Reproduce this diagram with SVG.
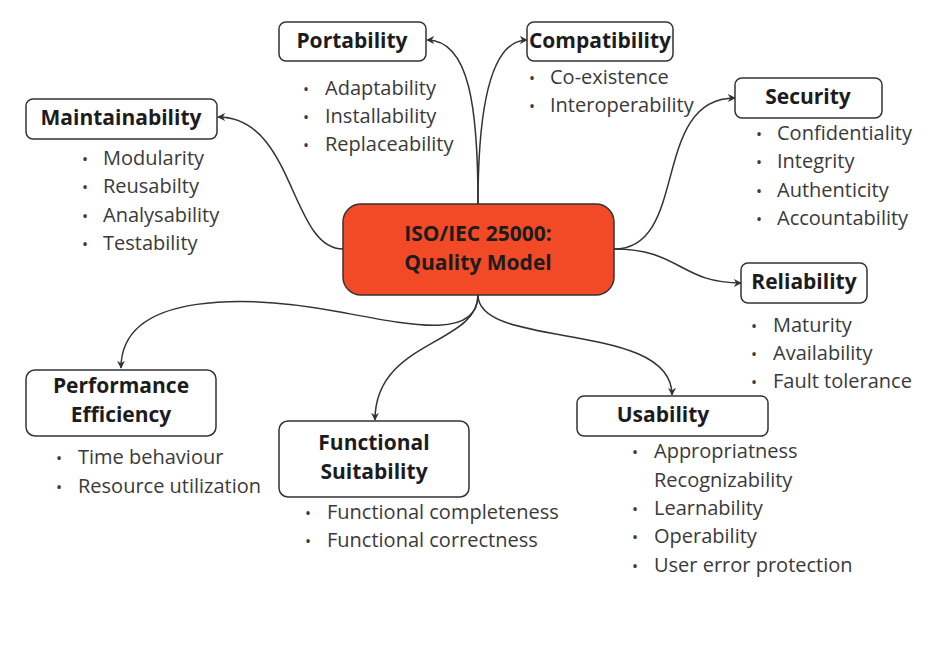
<svg xmlns="http://www.w3.org/2000/svg" width="945" height="658" viewBox="0 0 945 658">
<style>
.box{fill:#fff;stroke:#333;stroke-width:1.5}
.hd{font-family:"Open Sans","Liberation Sans",sans-serif;font-weight:bold;font-size:21px;fill:#1c1c1c;text-anchor:middle}
.it{font-family:"Open Sans","Liberation Sans",sans-serif;font-size:20px;fill:#3a3a3a}
.bu{font-family:"Open Sans","Liberation Sans",sans-serif;font-size:16px;fill:#3a3a3a}
.cn{fill:none;stroke:#333;stroke-width:1.5;marker-end:url(#ah)}
</style>
<defs>
<marker id="ah" viewBox="0 0 10 10" refX="9" refY="5" markerWidth="8" markerHeight="8" markerUnits="userSpaceOnUse" orient="auto">
<path d="M0,0 L10,5 L0,10 L3,5 z" fill="#333"/>
</marker>
</defs>
<rect width="945" height="658" fill="#fff"/>
<g id="connectors">
<path class="cn" d="M343,249 C290,249 295,117 218,117"/>
<path class="cn" d="M478,204 C478,110 470,40 427,40"/>
<path class="cn" d="M478,204 C478,110 490,40 527,40"/>
<path class="cn" d="M614,249 C690,249 650,98 735,98"/>
<path class="cn" d="M614,249 C680,249 680,283 741,283"/>
<path class="cn" d="M478,295 C478,340 410,325 340,312 C250,295 121,290 121,368"/>
<path class="cn" d="M478,295 C478,345 375,340 375,420"/>
<path class="cn" d="M478,295 C478,350 672,320 672,395"/>
</g>
<g id="center">
<rect x="343" y="204" width="271" height="91" rx="18" fill="#F24A26" stroke="#333" stroke-width="1.5"/>
<text class="hd" x="478" y="241">ISO/IEC 25000:</text>
<text class="hd" x="478" y="270">Quality Model</text>
</g>
<g id="portability">
<rect class="box" x="279" y="22" width="147" height="39" rx="7"/>
<text class="hd" x="352" y="48">Portability</text>
<text class="bu" x="303" y="95">•</text><text class="it" x="325" y="95">Adaptability</text>
<text class="bu" x="303" y="123">•</text><text class="it" x="325" y="123">Installability</text>
<text class="bu" x="303" y="151">•</text><text class="it" x="325" y="151">Replaceability</text>
</g>
<g id="compatibility">
<rect class="box" x="527" y="22" width="146" height="39" rx="7"/>
<text class="hd" x="600" y="48">Compatibility</text>
<text class="bu" x="529" y="84">•</text><text class="it" x="550" y="84">Co-existence</text>
<text class="bu" x="529" y="112">•</text><text class="it" x="550" y="112">Interoperability</text>
</g>
<g id="maintainability">
<rect class="box" x="26" y="99" width="191" height="40" rx="7"/>
<text class="hd" x="121" y="125">Maintainability</text>
<text class="bu" x="82" y="165">•</text><text class="it" x="103" y="165">Modularity</text>
<text class="bu" x="82" y="193">•</text><text class="it" x="103" y="193">Reusabilty</text>
<text class="bu" x="82" y="222">•</text><text class="it" x="103" y="222">Analysability</text>
<text class="bu" x="82" y="250">•</text><text class="it" x="103" y="250">Testability</text>
</g>
<g id="security">
<rect class="box" x="735" y="78" width="147" height="40" rx="7"/>
<text class="hd" x="808" y="104">Security</text>
<text class="bu" x="756" y="140">•</text><text class="it" x="777" y="140">Confidentiality</text>
<text class="bu" x="756" y="168">•</text><text class="it" x="777" y="168">Integrity</text>
<text class="bu" x="756" y="197">•</text><text class="it" x="777" y="197">Authenticity</text>
<text class="bu" x="756" y="225">•</text><text class="it" x="777" y="225">Accountability</text>
</g>
<g id="reliability">
<rect class="box" x="741" y="263" width="126" height="40" rx="7"/>
<text class="hd" x="804" y="289">Reliability</text>
<text class="bu" x="751" y="332">•</text><text class="it" x="773" y="332">Maturity</text>
<text class="bu" x="751" y="360">•</text><text class="it" x="773" y="360">Availability</text>
<text class="bu" x="751" y="388">•</text><text class="it" x="773" y="388">Fault tolerance</text>
</g>
<g id="performance">
<rect class="box" x="26" y="370" width="190" height="66" rx="9"/>
<text class="hd" x="121" y="393">Performance</text>
<text class="hd" x="121" y="422">Efficiency</text>
<text class="bu" x="56" y="464">•</text><text class="it" x="78" y="464">Time behaviour</text>
<text class="bu" x="56" y="493">•</text><text class="it" x="78" y="493">Resource utilization</text>
</g>
<g id="functional">
<rect class="box" x="279" y="421" width="190" height="76" rx="9"/>
<text class="hd" x="374" y="450">Functional</text>
<text class="hd" x="374" y="479">Suitability</text>
<text class="bu" x="305" y="519">•</text><text class="it" x="327" y="519">Functional completeness</text>
<text class="bu" x="305" y="547">•</text><text class="it" x="327" y="547">Functional correctness</text>
</g>
<g id="usability">
<rect class="box" x="577" y="396" width="191" height="40" rx="7"/>
<text class="hd" x="663" y="422">Usability</text>
<text class="bu" x="632" y="458">•</text><text class="it" x="654" y="458">Appropriatness</text>
<text class="it" x="654" y="487">Recognizability</text>
<text class="bu" x="632" y="515">•</text><text class="it" x="654" y="515">Learnability</text>
<text class="bu" x="632" y="543">•</text><text class="it" x="654" y="543">Operability</text>
<text class="bu" x="632" y="572">•</text><text class="it" x="654" y="572">User error protection</text>
</g>
</svg>
